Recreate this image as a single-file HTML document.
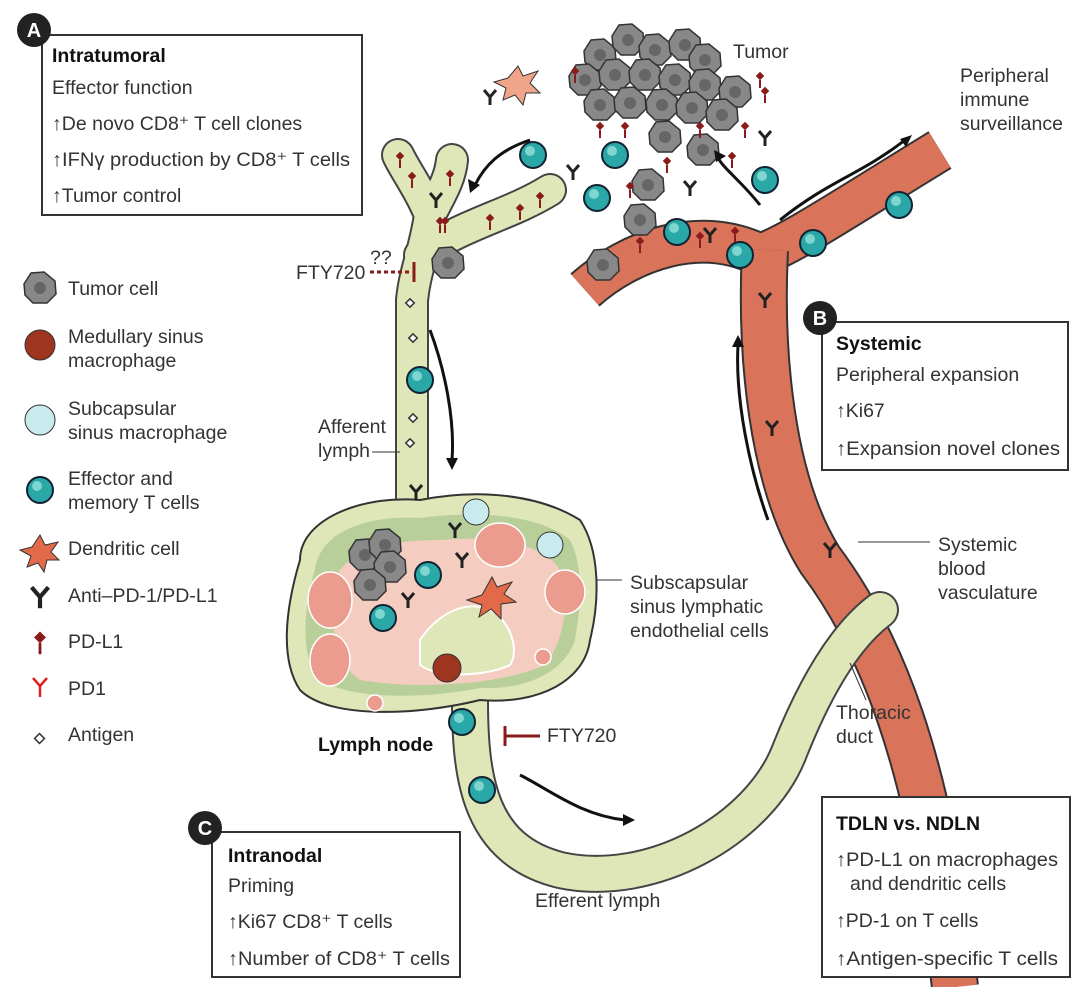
<!DOCTYPE html>
<html><head><meta charset="utf-8"><style>
body{margin:0;background:#fff;}
svg{display:block;font-family:"Liberation Sans",sans-serif;}
.t{font-size:19.5px;fill:#333;}
.b{font-size:19.5px;font-weight:bold;fill:#111;}
</style></head><body>
<svg width="1080" height="987" viewBox="0 0 1080 987">
<defs>
<g id="tc"><circle r="13" fill="#2aa7a7" stroke="#123" stroke-width="2"/><circle cx="-3" cy="-4" r="5" fill="#7fd6d0"/></g>
<g id="ab" stroke="#222" stroke-width="3" fill="none"><path d="M0,8 L0,0 L-6,-7 M0,0 L6,-7"/></g>
<g id="tu"><path d="M-16,-4 L-9,-15 L4,-16 L15,-7 L16,6 L7,15 L-7,15 L-15,7Z" fill="#888" stroke="#333" stroke-width="1.5"/><circle r="6" fill="#666"/></g>
<g id="pl"><path d="M0,8 L0,0" stroke="#8b1a1a" stroke-width="2"/><rect x="-3" y="-7" width="6" height="6" fill="#8b1a1a" transform="rotate(45 0 -4)"/></g>
</defs>

<!-- blood vessel -->
<g fill="none" stroke-linecap="butt">
<path d="M585,290 C630,250 700,225 760,255 C790,245 850,205 940,150" stroke="#333" stroke-width="44"/>
<path d="M585,290 C630,250 700,225 760,255 C790,245 850,205 940,150" stroke="#d9735a" stroke-width="40"/>
<path d="M765,250 C760,350 770,480 820,560 C880,640 930,760 955,987" stroke="#333" stroke-width="48"/>
<path d="M765,250 C760,350 770,480 820,560 C880,640 930,760 955,987" stroke="#d9735a" stroke-width="44"/>
</g>

<!-- lymph vessels -->
<g fill="none" stroke-linecap="round">
<path d="M412,500 L412,300 C415,270 425,250 430,215 M430,215 C420,190 405,170 398,155 M430,215 C440,195 450,180 452,160 M420,255 C460,225 510,215 550,190" stroke="#444" stroke-width="34"/>
<path d="M412,500 L412,300 C415,270 425,250 430,215 M430,215 C420,190 405,170 398,155 M430,215 C440,195 450,180 452,160 M420,255 C460,225 510,215 550,190" stroke="#dfe6b8" stroke-width="30"/>
<path d="M470,700 C470,780 480,850 560,870 C650,890 760,830 790,750 C810,700 840,640 880,610" stroke="#444" stroke-width="38"/>
<path d="M470,700 C470,780 480,850 560,870 C650,890 760,830 790,750 C810,700 840,640 880,610" stroke="#dfe6b8" stroke-width="34"/>
</g>
<!-- node -->
<path d="M300,560 C300,520 360,495 420,500 C480,488 540,495 580,520 C600,550 600,600 590,640 C585,680 540,705 480,700 C420,715 330,720 300,690 C280,660 285,610 300,560Z" fill="#dfe6b8" stroke="#333" stroke-width="2"/>
<path d="M315,570 C320,530 370,515 420,518 C480,510 540,515 570,540 C585,570 580,610 575,640 C565,670 530,690 480,688 C420,700 340,700 315,675 C300,650 305,600 315,570Z" fill="#b8cf9a"/>
<path d="M335,580 C345,550 390,540 440,540 C500,535 545,545 560,570 C570,600 565,640 545,665 C500,685 420,690 360,680 C330,660 330,610 335,580Z" fill="#f4cdc0"/>
<g fill="#ec9c8f" stroke="#fff" stroke-width="1.5">
<ellipse cx="330" cy="600" rx="22" ry="28"/><ellipse cx="330" cy="660" rx="20" ry="26"/><ellipse cx="500" cy="545" rx="25" ry="22"/><ellipse cx="565" cy="592" rx="20" ry="22"/><circle cx="375" cy="703" r="8"/><circle cx="543" cy="657" r="8"/>
</g>
<path d="M420,640 C440,610 470,600 490,610 C510,620 520,650 510,665 C490,675 440,680 420,665Z" fill="#dfe6b8" stroke="#fff" stroke-width="2"/>
<g transform="translate(365,555)"><use href="#tu"/><use href="#tu" x="20" y="-10"/><use href="#tu" x="25" y="12"/><use href="#tu" x="5" y="30"/></g>
<circle cx="476" cy="512" r="13" fill="#c9ebee" stroke="#333"/><circle cx="550" cy="545" r="13" fill="#c9ebee" stroke="#333"/>
<path d="M482,595 l10,-18 l5,10 l15,-5 l-8,12 l12,8 l-15,2 l0,15 l-10,-10 l-12,8 l3,-12 l-15,-5Z" fill="#e06a4a" stroke="#333"/>
<circle cx="447" cy="668" r="14" fill="#9e3520" stroke="#333"/>
<use href="#tc" x="428" y="575"/><use href="#tc" x="383" y="618"/>
<use href="#ab" x="416" y="492"/><use href="#ab" x="455" y="530"/><use href="#ab" x="462" y="560"/><use href="#ab" x="408" y="600"/>
<use href="#tc" x="462" y="722"/><use href="#tc" x="482" y="790"/>

<!-- afferent contents -->
<use href="#tc" x="420" y="380"/><use href="#tu" x="448" y="263"/><use href="#ab" x="436" y="200"/>
<use href="#pl" x="400" y="160"/><use href="#pl" x="412" y="180"/><use href="#pl" x="450" y="178"/><use href="#pl" x="445" y="225"/><use href="#pl" x="490" y="222"/><use href="#pl" x="520" y="212"/><use href="#pl" x="540" y="200"/><use href="#pl" x="440" y="225"/>
<g fill="#fff" stroke="#333" stroke-width="1.5"><rect x="407" y="300" width="6" height="6" transform="rotate(45 410 303)"/><rect x="410" y="335" width="6" height="6" transform="rotate(45 413 338)"/><rect x="410" y="415" width="6" height="6" transform="rotate(45 413 418)"/><rect x="407" y="440" width="6" height="6" transform="rotate(45 410 443)"/></g>

<!-- tumor -->
<g>
<use href="#tu" x="600" y="55"/><use href="#tu" x="628" y="40"/><use href="#tu" x="655" y="50"/><use href="#tu" x="685" y="45"/><use href="#tu" x="705" y="60"/>
<use href="#tu" x="585" y="80"/><use href="#tu" x="615" y="75"/><use href="#tu" x="645" y="75"/><use href="#tu" x="675" y="80"/><use href="#tu" x="705" y="85"/><use href="#tu" x="735" y="92"/>
<use href="#tu" x="600" y="105"/><use href="#tu" x="630" y="103"/><use href="#tu" x="662" y="105"/><use href="#tu" x="692" y="108"/><use href="#tu" x="722" y="115"/>
<use href="#tu" x="665" y="137"/><use href="#tu" x="703" y="150"/><use href="#tu" x="648" y="185"/><use href="#tu" x="640" y="220"/><use href="#tu" x="603" y="265"/>
</g>
<use href="#pl" x="575" y="75"/><use href="#pl" x="600" y="130"/><use href="#pl" x="625" y="130"/><use href="#pl" x="700" y="130"/><use href="#pl" x="760" y="80"/><use href="#pl" x="765" y="95"/><use href="#pl" x="745" y="130"/><use href="#pl" x="732" y="160"/><use href="#pl" x="667" y="165"/><use href="#pl" x="630" y="190"/><use href="#pl" x="640" y="245"/><use href="#pl" x="700" y="240"/><use href="#pl" x="735" y="235"/>
<use href="#tc" x="615" y="155"/><use href="#tc" x="533" y="155"/><use href="#tc" x="597" y="198"/><use href="#tc" x="765" y="180"/>
<use href="#tc" x="677" y="232"/><use href="#tc" x="740" y="255"/><use href="#tc" x="813" y="243"/><use href="#tc" x="899" y="205"/>
<use href="#ab" x="765" y="138"/><use href="#ab" x="573" y="172"/><use href="#ab" x="690" y="188"/><use href="#ab" x="710" y="235"/><use href="#ab" x="765" y="300"/><use href="#ab" x="772" y="428"/><use href="#ab" x="830" y="550"/><use href="#ab" x="490" y="97"/>
<path d="M508,78 l10,-12 l5,10 l15,-5 l-8,12 l10,10 l-14,0 l-3,12 l-8,-10 l-12,5 l3,-12 l-12,-6Z" fill="#f0a48a" stroke="#333"/>

<!-- arrows -->
<g fill="none" stroke="#111" stroke-width="3">
<path d="M530,140 C500,150 485,165 475,185"/><path d="M430,330 C445,370 455,420 452,460"/><path d="M768,520 C750,470 735,400 738,345"/>
<path d="M760,205 C740,180 725,170 718,158"/><path d="M780,220 C830,180 860,175 905,140"/><path d="M520,775 C550,790 580,815 625,820"/>
</g>
<g fill="#111"><path d="M470,193 l-2,-14 l12,6Z"/><path d="M452,470 l-6,-12 l12,0Z"/><path d="M738,335 l-6,12 l12,0Z"/><path d="M714,150 l12,6 l-10,6Z"/><path d="M912,135 l-6,12 l-6,-8Z"/><path d="M635,820 l-12,-6 l0,12Z"/></g>
<g stroke="#8b1a1a" stroke-width="3"><path d="M370,272 L412,272" stroke-dasharray="4,3"/><path d="M414,262 L414,282"/><path d="M505,736 L540,736"/><path d="M505,726 L505,746"/></g>

<!-- labels -->
<text class="t" x="733" y="58">Tumor</text>
<text class="t" x="960" y="82">Peripheral</text><text class="t" x="960" y="106">immune</text><text class="t" x="960" y="130">surveillance</text>
<text class="t" x="296" y="279">FTY720</text><text class="t" x="370" y="264" font-size="16">??</text>
<text class="t" x="318" y="433">Afferent</text><text class="t" x="318" y="457">lymph</text><path d="M372,452 L400,452" stroke="#333"/>
<text class="t" x="630" y="589">Subscapsular</text><text class="t" x="630" y="613">sinus lymphatic</text><text class="t" x="630" y="637">endothelial cells</text><path d="M597,580 L622,580" stroke="#333"/>
<text class="t" x="938" y="551">Systemic</text><text class="t" x="938" y="575">blood</text><text class="t" x="938" y="599">vasculature</text><path d="M858,542 L930,542" stroke="#333"/>
<text class="t" x="836" y="719">Thoracic</text><text class="t" x="836" y="743">duct</text><path d="M850,663 L866,700" stroke="#333"/>
<text class="b" x="318" y="751" font-size="18">Lymph node</text>
<text class="t" x="547" y="742">FTY720</text>
<text class="t" x="535" y="907">Efferent lymph</text>

<!-- legend -->
<use href="#tu" x="40" y="288"/><text class="t" x="68" y="295">Tumor cell</text>
<circle cx="40" cy="345" r="15" fill="#9e3520" stroke="#333"/><text class="t" x="68" y="343">Medullary sinus</text><text class="t" x="68" y="367">macrophage</text>
<circle cx="40" cy="420" r="15" fill="#c9ebee" stroke="#333"/><text class="t" x="68" y="415">Subcapsular</text><text class="t" x="68" y="439">sinus macrophage</text>
<use href="#tc" x="40" y="490"/><text class="t" x="68" y="485">Effector and</text><text class="t" x="68" y="509">memory T cells</text>
<path d="M40,535 l5,10 l13,-3 l-7,10 l8,8 l-12,0 l-3,12 l-6,-9 l-11,4 l4,-11 l-11,-6 l12,-3Z" fill="#e06a4a" stroke="#333"/><text class="t" x="68" y="555">Dendritic cell</text>
<g transform="translate(40,597) scale(1.4)"><use href="#ab"/></g><text class="t" x="68" y="602">Anti–PD-1/PD-L1</text>
<g transform="translate(40,643) scale(1.4)"><use href="#pl"/></g><text class="t" x="68" y="648">PD-L1</text>
<path d="M40,697 L40,686 L33,678 M40,686 L47,678" stroke="#d22" stroke-width="2.5" fill="none"/><text class="t" x="68" y="695">PD1</text>
<rect x="36" y="735" width="7" height="7" fill="#fff" stroke="#333" stroke-width="1.5" transform="rotate(45 39.5 738.5)"/><text class="t" x="68" y="741">Antigen</text>

<!-- boxes -->
<g fill="#fff" stroke="#333" stroke-width="2">
<rect x="42" y="35" width="320" height="180"/><rect x="822" y="322" width="246" height="148"/><rect x="212" y="832" width="248" height="145"/><rect x="822" y="797" width="248" height="180"/>
</g>
<g fill="#222"><circle cx="34" cy="30" r="17"/><circle cx="820" cy="318" r="17"/><circle cx="205" cy="828" r="17"/></g>
<g fill="#fff" font-weight="bold" font-size="20" text-anchor="middle"><text x="34" y="37">A</text><text x="820" y="325">B</text><text x="205" y="835">C</text></g>

<text class="b" x="52" y="62">Intratumoral</text><text class="t" x="52" y="94">Effector function</text>
<text class="t" x="52" y="130">↑De novo CD8⁺ T cell clones</text><text class="t" x="52" y="166" textLength="298" lengthAdjust="spacingAndGlyphs">↑IFNγ production by CD8⁺ T cells</text><text class="t" x="52" y="202">↑Tumor control</text>
<text class="b" x="836" y="350">Systemic</text><text class="t" x="836" y="381">Peripheral expansion</text><text class="t" x="836" y="417">↑Ki67</text><text class="t" x="836" y="455" textLength="224" lengthAdjust="spacingAndGlyphs">↑Expansion novel clones</text>
<text class="b" x="228" y="862">Intranodal</text><text class="t" x="228" y="892">Priming</text><text class="t" x="228" y="928">↑Ki67 CD8⁺ T cells</text><text class="t" x="228" y="965" textLength="222" lengthAdjust="spacingAndGlyphs">↑Number of CD8⁺ T cells</text>
<text class="b" x="836" y="830">TDLN vs. NDLN</text><text class="t" x="836" y="866" textLength="222" lengthAdjust="spacingAndGlyphs">↑PD-L1 on macrophages</text><text class="t" x="850" y="890">and dendritic cells</text><text class="t" x="836" y="927">↑PD-1 on T cells</text><text class="t" x="836" y="965" textLength="222" lengthAdjust="spacingAndGlyphs">↑Antigen-specific T cells</text>
</svg>
</body></html>
